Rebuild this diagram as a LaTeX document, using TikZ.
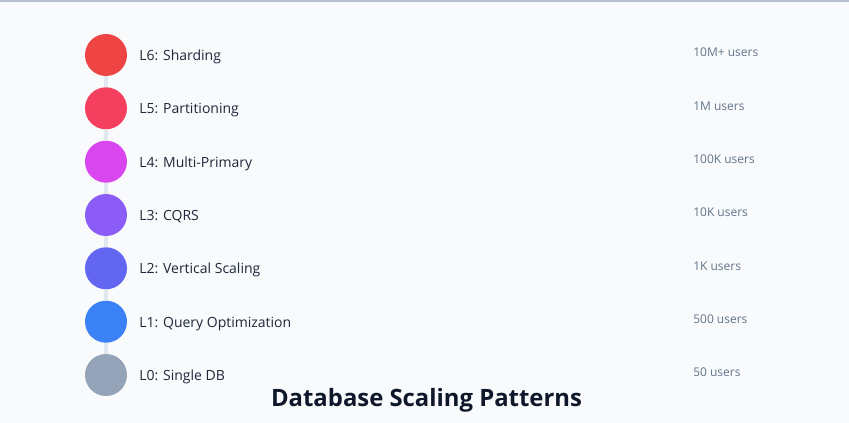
\documentclass[tikz,border=0pt]{standalone}
\usepackage{fontspec}
\setmainfont{Open Sans}
\definecolor{bgpage}{HTML}{F8FAFC}
\definecolor{topbar}{HTML}{B8BFD0}
\definecolor{spine}{HTML}{E2E8F0}
\definecolor{labeltext}{HTML}{1E293B}
\definecolor{usertext}{HTML}{64748B}
\definecolor{titletext}{HTML}{0F172A}
\definecolor{lvlsix}{HTML}{EF4444}
\definecolor{lvlfive}{HTML}{F43F5E}
\definecolor{lvlfour}{HTML}{D946EF}
\definecolor{lvlthree}{HTML}{8B5CF6}
\definecolor{lvltwo}{HTML}{6366F1}
\definecolor{lvlone}{HTML}{3B82F6}
\definecolor{lvlzero}{HTML}{94A3B8}
\begin{document}
\begin{tikzpicture}[x=0.75pt,y=0.75pt,yscale=-1,xscale=1,
    level/.style={circle,minimum size=31.5pt,inner sep=0pt},
    levelname/.style={anchor=west,inner sep=0.75pt,font=\fontsize{10.5}{12}\selectfont,text=labeltext},
    users/.style={anchor=west,inner sep=0.75pt,font=\fontsize{9}{11}\selectfont,text=usertext}]
        %Background
        \fill [bgpage] (0,0) rectangle (849,423) ;
        \useasboundingbox (0,0) rectangle (849,423) ;
        %Top bar
        \fill [topbar] (0,0) rectangle (849,2.5) ;

        %Levels
        \node [level,fill=lvlsix] (l6) at (106,55) {};
        \node [level,fill=lvlfive] (l5) at (106,108.3) {};
        \node [level,fill=lvlfour] (l4) at (106,161.7) {};
        \node [level,fill=lvlthree] (l3) at (106,215) {};
        \node [level,fill=lvltwo] (l2) at (106,268.3) {};
        \node [level,fill=lvlone] (l1) at (106,321.7) {};
        \node [level,fill=lvlzero] (l0) at (106,375) {};

        %Spine between levels
        \draw [spine,line width=3pt] (l6) -- (l5) (l5) -- (l4) (l4) -- (l3) (l3) -- (l2) (l2) -- (l1) (l1) -- (l0) ;

        % Text Node
        \node [levelname] (n6) at (138,57) {L6: Sharding};
        % Text Node
        \node [levelname] (n5) at (138,110.3) {L5: Partitioning};
        % Text Node
        \node [levelname] (n4) at (138,163.7) {L4: Multi-Primary};
        % Text Node
        \node [levelname] (n3) at (138,217) {L3: CQRS};
        % Text Node
        \node [levelname] (n2) at (138,270.3) {L2: Vertical Scaling};
        % Text Node
        \node [levelname] (n1) at (138,323.7) {L1: Query Optimization};
        % Text Node
        \node [levelname] (n0) at (138,377) {L0: Single DB};

        % Text Node
        \node [users] (u6) at (692,52.5) {10M+ users};
        % Text Node
        \node [users] (u5) at (692,105.8) {1M users};
        % Text Node
        \node [users] (u4) at (692,159.2) {100K users};
        % Text Node
        \node [users] (u3) at (692,212.5) {10K users};
        % Text Node
        \node [users] (u2) at (692,265.8) {1K users};
        % Text Node
        \node [users] (u1) at (692,319.2) {500 users};
        % Text Node
        \node [users] (u0) at (692,372.5) {50 users};

        % Text Node
        \node [inner sep=0.75pt,font=\bfseries\fontsize{17.9}{21}\selectfont,text=titletext] (title) at (426.5,400) {Database Scaling Patterns};
\end{tikzpicture}
\end{document}
